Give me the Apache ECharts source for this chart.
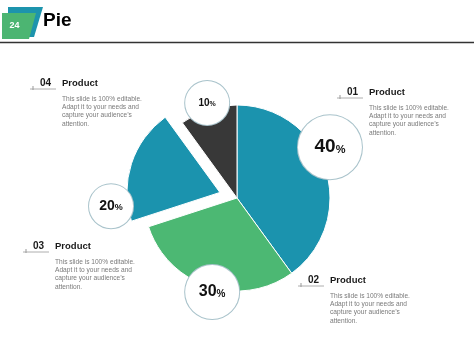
<!DOCTYPE html>
<html><head><meta charset="utf-8">
<script src="https://cdn.jsdelivr.net/npm/echarts@6/dist/echarts.min.js"></script>
<style>html,body{margin:0;padding:0;background:#fff}#c{width:474px;height:355px}</style>
</head><body><div id="c"></div>
<script>
// ---- data ----
const categories = ['01', '02', '03', '04'];
const values = [40, 30, 20, 10];
const productNames = ['Product', 'Product', 'Product', 'Product'];
const bodyLines = ['This slide is 100% editable.', 'Adapt it to your needs and', 'capture your audience\u2019s', 'attention.'];
const pageNumber = '24';
const pageTitle = 'Pie';

// ---- styles ----
const FONT = '"Liberation Sans", Arial, sans-serif';
const colors = ['#1b93ae', '#4cb873', '#1b93ae', '#383838'];
const exploded = [false, false, true, false];
const badgeRadius = [32, 27, 22, 22];
const badgeFont = [[19, 11], [16, 10], [14, 9], [10, 7]];
const badgeNudge = [[-5, -19], [7, -4], [-28, 40], [2, 3]];
const calloutPos = [[347, 92], [308, 280], [33, 246], [40, 83]];

const chart = echarts.init(document.getElementById('c'), null, {renderer: 'canvas'});

const graphics = [
  {type: 'polygon', shape: {points: [[8, 7], [43, 7], [34, 37], [8, 37]]}, style: {fill: '#1d94ad'}},
  {type: 'polygon', shape: {points: [[2, 13], [36, 13], [29, 39], [2, 39]]}, style: {fill: '#4cb572'}},
  {type: 'text', x: 14.5, y: 26, style: {text: pageNumber, fill: '#fff', font: 'bold 9px ' + FONT, align: 'center', verticalAlign: 'middle'}},
  {type: 'text', x: 43, y: 20.5, style: {text: pageTitle, fill: '#000', font: 'bold 19px ' + FONT, align: 'left', verticalAlign: 'middle'}},
  {type: 'line', shape: {x1: 0, y1: 42.5, x2: 474, y2: 42.5}, style: {stroke: '#333', lineWidth: 1.5}}
];

categories.forEach((c, i) => {
  const [nx, ny] = calloutPos[i];
  graphics.push({type: 'text', x: nx, y: ny, style: {text: c, fill: '#1a1a1a', font: 'bold 10px ' + FONT, align: 'left', verticalAlign: 'middle'}});
  graphics.push({type: 'line', shape: {x1: nx - 10, y1: ny + 6, x2: nx + 16, y2: ny + 6}, style: {stroke: '#999', lineWidth: 0.8}});
  graphics.push({type: 'line', shape: {x1: nx - 7, y1: ny + 3, x2: nx - 7, y2: ny + 7}, style: {stroke: '#999', lineWidth: 1}});
  graphics.push({type: 'text', x: nx + 22, y: ny, style: {text: productNames[i], fill: '#1a1a1a', font: 'bold 9.5px ' + FONT, align: 'left', verticalAlign: 'middle'}});
  graphics.push({type: 'text', x: nx + 22, y: ny + 11.8, style: {text: bodyLines.join('\n'), fill: '#7a7a7a', font: '6.6px ' + FONT, lineHeight: 8.3, align: 'left', verticalAlign: 'top'}});
});

const mainData = values.map((v, i) => ({
  value: v, name: categories[i], selected: exploded[i],
  itemStyle: {color: colors[i]}
}));

const badgeData = values.map((v, i) => {
  const R = badgeRadius[i];
  const [fv, fp] = badgeFont[i];
  return {
    value: v, name: categories[i],
    label: {
      width: 2 * R, height: 2 * R, borderRadius: R,
      rich: {
        v: {fontSize: fv, fontWeight: 'bold', color: '#111', fontFamily: FONT, lineHeight: 2 * R},
        p: {fontSize: fp, fontWeight: 'bold', color: '#111', fontFamily: FONT, lineHeight: 2 * R, padding: [(fv - fp) * 0.7, 0, 0, 0]}
      }
    }
  };
});

chart.setOption({
  animation: false,
  graphic: graphics,
  series: [
    {
      type: 'pie', center: [237, 198], radius: 93, startAngle: 90, clockwise: true,
      selectedMode: 'multiple', selectedOffset: 18,
      label: {show: false}, labelLine: {show: false},
      itemStyle: {borderColor: '#fff', borderWidth: 1},
      emphasis: {disabled: true},
      data: mainData
    },
    {
      type: 'pie', center: [237, 198], radius: [90, 110], startAngle: 90, clockwise: true,
      silent: true, z: 5,
      itemStyle: {color: 'rgba(0,0,0,0)', borderWidth: 0},
      emphasis: {disabled: true},
      labelLine: {show: false},
      label: {
        show: true, position: 'inside', formatter: '{v|{c}}{p|%}',
        backgroundColor: '#fff', borderColor: '#a9c3cb', borderWidth: 1,
        align: 'center'
      },
      labelLayout: p => ({dx: badgeNudge[p.dataIndex][0], dy: badgeNudge[p.dataIndex][1]}),
      data: badgeData
    }
  ]
});
</script>
</body></html>
